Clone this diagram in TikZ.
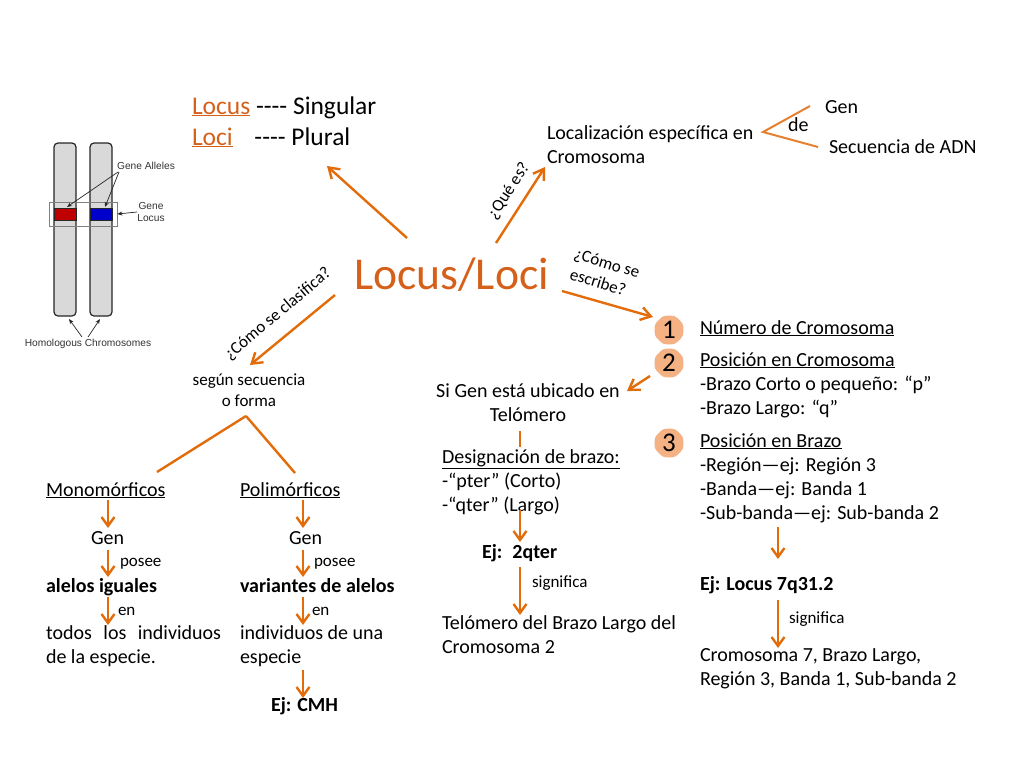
\documentclass[tikz,border=0pt]{standalone}
\usepackage{fontspec}
\setmainfont{Carlito}
\newfontfamily\hfont{Liberation Sans}
\usetikzlibrary{arrows.meta,shapes.geometric}
\definecolor{org}{HTML}{E26B0A}
\definecolor{ttl}{HTML}{D4601A}
\definecolor{badge}{HTML}{F4B183}
\newcommand{\fs}[2]{\fontsize{#1}{#2}\selectfont}
\newcommand{\tl}[1]{\begin{tabular}[t]{@{}l@{}}#1\end{tabular}}
\newcommand{\tc}[1]{\begin{tabular}[t]{@{}c@{}}#1\end{tabular}}
\tikzset{
 x=1pt,y=-1pt,
 txt/.style={anchor=base west,inner sep=0pt,outer sep=0pt,font=\fs{20}{24}},
 ctr/.style={anchor=base,inner sep=0pt,outer sep=0pt,font=\fs{20}{24}},
 small/.style={font=\fs{17}{21}},
 big/.style={font=\fs{25.5}{30}},
 arr/.style={draw=org,line width=2.4pt,-{Straight Barb[length=10pt,width=13pt,line width=2.4pt]}},
 vrr/.style={draw=org,line width=2.8pt,-{Straight Barb[length=9pt,width=13pt,line width=2.4pt]}},
 lin/.style={draw=org,line width=2.4pt},
 num/.style={shape=regular polygon,regular polygon sides=8,fill=badge,rounded corners=3pt,minimum size=31pt,inner sep=0pt,font=\fs{27}{30}},
 lbl/.style={inner sep=0pt,font=\hfont\fs{10.2}{11.5},text=black!80,align=center},
 hrr/.style={draw=black!85,line width=.7pt,-{Stealth[length=5pt,width=4pt]}},
 chrom/.style={draw=black!85,line width=1.2pt,fill=black!15,rounded corners=4pt},
}
\begin{document}
\begin{tikzpicture}
\useasboundingbox (0,0) rectangle (1024,768);
% chromosome figure
\draw[chrom] (54,143) rectangle (76,316);
\draw[chrom] (90,143) rectangle (112,316);
\fill[red!75!black,draw=black!85,line width=.8pt] (54,208) rectangle (76,220);
\fill[blue!80!black,draw=black!85,line width=.8pt] (90,208) rectangle (112,220);
\node[draw=black!50,line width=.6pt,minimum width=68pt,minimum height=24pt,inner sep=0pt] (locusbox) at (83,214) {};
\node[lbl] (alleles) at (146,166) {Gene Alleles};
\node[lbl] (genelocus) at (151,212) {Gene\\Locus};
\node[lbl] (homol) at (88,343.5) {Homologous Chromosomes};
\coordinate (bandA) at (67,207);
\coordinate (bandB) at (105,207);
\coordinate (ctipA) at (69,319);
\coordinate (ctipB) at (100,319);
\draw[hrr] ([shift={(-28,6)}]alleles.center) -- (bandA);
\draw[hrr] ([shift={(-27,6)}]alleles.center) -- (bandB);
\draw[hrr] (genelocus.west) -- (locusbox.east);
\draw[hrr] ([shift={(-6,-6.5)}]homol.center) -- (ctipA);
\draw[hrr] ([shift={(0,-6.5)}]homol.center) -- (ctipB);
% top-left
\node[txt,font=\fs{45.6}{50},text=ttl] (title) at (354,289) {Locus/Loci};
\node[txt,big] (singular) at (192,114) {\textcolor{ttl}{\underline{Locus}} -{}-{}-{}- Singular};
\node[txt,big] (plural) at (192,145) {\textcolor{ttl}{\underline{Loci}}\hspace{0.85em}-{}-{}-{}- Plural};
% top-right
\node[txt] (local) at (547,139) {\tl{Localización específica en\\Cromosoma}};
\node[txt] (gen0) at (825,113) {Gen};
\node[txt] (de) at (788,131) {de};
\node[txt] (adn) at (829,153) {Secuencia de ADN};
\draw[draw=org!70!badge,line width=2pt,line join=miter] ([shift={(-15,-7)}]gen0.base west) -- ([shift={(216,-7)}]local.base west) -- ([shift={(-11,-6)}]adn.base west);
% rotated labels
\node[ctr,small,rotate=57,anchor=center] (quees) at (509,191) {¿Qué es?};
\node[ctr,small,rotate=40,anchor=center] (clasif) at (278,314) {¿Cómo se clasifica?};
\node[ctr,small,rotate=-17,anchor=center,align=center] (escribe) at (604,273) {¿Cómo se\\\hspace*{-.35em}escribe?};
% numbered items
\node[num] (n1) at (669,330) {1};
\node[num] (n2) at (669,363) {2};
\node[num] (n3) at (669,443) {3};
\node[txt] (numcrom) at (700,334) {\underline{Número de Cromosoma}};
\node[txt] (poscrom) at (700,366) {\tl{\underline{Posición en Cromosoma}\\-Brazo Corto o pequeño: “p”\\-Brazo Largo: “q”}};
\node[txt] (posbrazo) at (700,447) {\tl{\underline{Posición en Brazo}\\-Región—ej: Región 3\\-Banda—ej: Banda 1\\-Sub-banda—ej: Sub-banda 2}};
\node[txt] (ejlocus) at (700,590) {\textbf{Ej: Locus 7q31.2}};
\node[txt,small] (sig2) at (789,623) {significa};
\node[txt] (result) at (700,661) {\tl{Cromosoma 7, Brazo Largo,\\Región 3, Banda 1, Sub-banda 2}};
% centre column
\node[ctr] (telomero) at (528,397) {\tc{Si Gen está ubicado en\\Telómero}};
\node[txt] (design) at (442,463) {\tl{\underline{Designación de brazo:}\\-“pter” (Corto)\\-“qter” (Largo)}};
\node[txt] (ej2q) at (482,558) {\textbf{Ej:\hspace{0.5em}2qter}};
\node[txt,small] (sig1) at (532,587) {significa};
\node[txt] (telres) at (442,629) {\tl{Telómero del Brazo Largo del\\Cromosoma 2}};
% left columns
\node[ctr,small] (segun) at (249,385) {\tc{según secuencia\\o forma}};
\node[txt] (mono) at (46,496) {\underline{Monomórficos}};
\node[txt] (gena) at (91,544) {Gen};
\node[txt,small] (poseea) at (120,566) {posee};
\node[txt] (iguales) at (46,592) {\textbf{alelos iguales}};
\node[txt,small] (ena) at (118,615) {en};
\node[txt] (todos) at (46,639) {\tl{todos\hspace{.35em} los\hspace{.35em} individuos\\de la especie.}};
\node[txt] (poli) at (240,496) {\underline{Polimórficos}};
\node[txt] (genb) at (289,544) {Gen};
\node[txt,small] (poseeb) at (314,566) {posee};
\node[txt] (variantes) at (240,592) {\textbf{variantes de alelos}};
\node[txt,small] (enb) at (312,615) {en};
\node[txt] (indiv) at (240,639) {\tl{individuos de una\\especie}};
\node[txt] (cmh) at (271,711) {\textbf{Ej: CMH}};
% main arrows
\draw[arr] ([shift={(53,-51)}]title.base west) -- ([shift={(135,21)}]plural.base west);
\draw[arr] ([shift={(142,-46)}]title.base west) -- ([shift={(-2,28)}]local.base west);
\draw[arr] ([shift={(208,2)}]title.base west) -- ([shift={(-16,-13)}]n1.center);
\draw[arr] ([shift={(-19,6)}]title.base west) -- ([shift={(1,-20)}]segun.base);
\draw[arr] ([shift={(-19,13)}]n2.center) -- ([shift={(99,-6)}]telomero.base);
\draw[lin,line width=2pt] ([shift={(-8,34)}]telomero.base) -- ([shift={(78,-16)}]design.base west);
\draw[lin] ([shift={(-3,31)}]segun.base) -- ([shift={(111,-24)}]mono.base west);
\draw[lin] ([shift={(-3,31)}]segun.base) -- ([shift={(55,-23)}]poli.base west);
% vertical arrows
\draw[vrr] ([shift={(62,4)}]mono.base west) -- ([shift={(17,-16)}]gena.base west);
\draw[vrr] ([shift={(17,6)}]gena.base west) -- ([shift={(62,-15)}]iguales.base west);
\draw[vrr] ([shift={(62,5)}]iguales.base west) -- ([shift={(62,-14)}]todos.base west);
\draw[vrr] ([shift={(63,4)}]poli.base west) -- ([shift={(14,-16)}]genb.base west);
\draw[vrr] ([shift={(14,6)}]genb.base west) -- ([shift={(63,-15)}]variantes.base west);
\draw[vrr] ([shift={(63,5)}]variantes.base west) -- ([shift={(63,-14)}]indiv.base west);
\draw[vrr] ([shift={(63,31)}]indiv.base west) -- ([shift={(32,-13)}]cmh.base west);
\draw[vrr] ([shift={(78,47)}]design.base west) -- ([shift={(38,-16)}]ej2q.base west);
\draw[vrr] ([shift={(38,9)}]ej2q.base west) -- ([shift={(78,-14)}]telres.base west);
\draw[vrr] ([shift={(78,80)}]posbrazo.base west) -- ([shift={(78,-31)}]ejlocus.base west);
\draw[vrr] ([shift={(78,10)}]ejlocus.base west) -- ([shift={(78,-13)}]result.base west);
\end{tikzpicture}
\end{document}
